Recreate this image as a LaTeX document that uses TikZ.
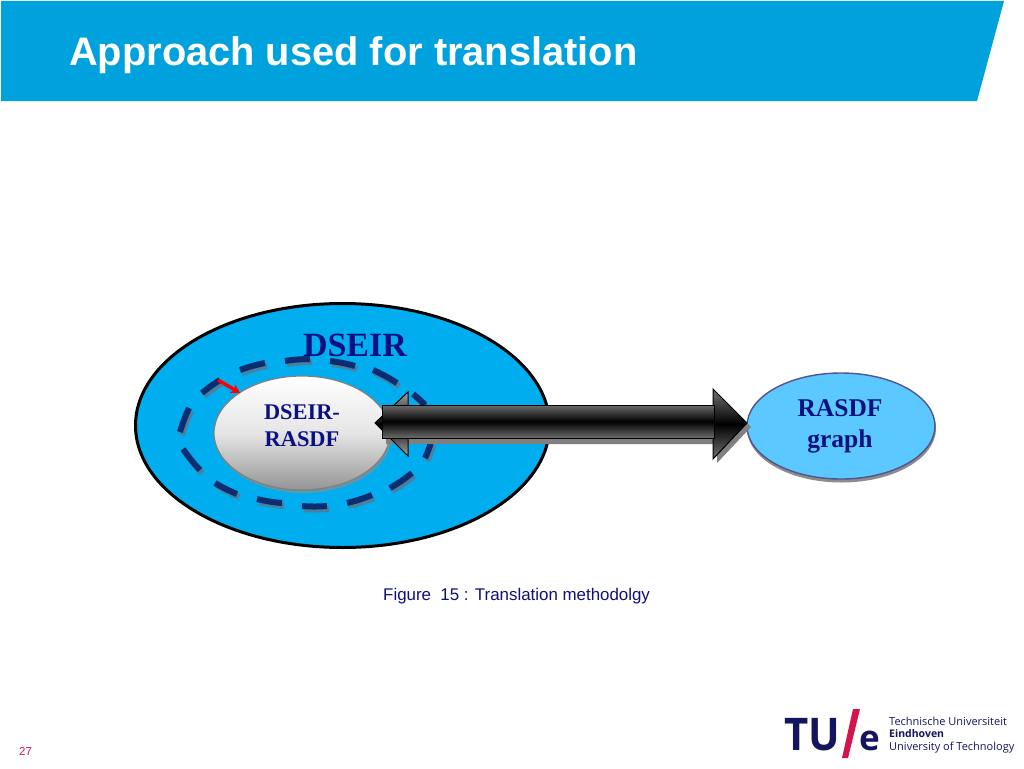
\documentclass[tikz,border=0pt]{standalone}
\usepackage{fontspec}
\setmainfont{Liberation Serif}
\newfontfamily\arialfont{Liberation Sans}
\newfontfamily\logofont{Open Sans}
\usetikzlibrary{arrows.meta,shapes.geometric}
\definecolor{band}{HTML}{00A2DE}
\definecolor{outerblue}{HTML}{00AEEF}
\definecolor{rasdfblue}{HTML}{5BC8FF}
\definecolor{navytext}{HTML}{0B1080}
\definecolor{captionnavy}{HTML}{10107A}
\definecolor{dashblue}{HTML}{0A2C70}
\definecolor{dashshadow}{HTML}{4A7F9E}
\definecolor{tuenavy}{HTML}{14145F}
\definecolor{tuered}{HTML}{D4144C}
\tikzset{
  x=1pt,y=-1pt,
  ringdash/.style={draw=dashblue,line width=6pt},
  ringshadow/.style={draw=dashshadow,line width=6pt},
  serifbold/.style={font=\fontsize{25.5}{31}\selectfont\bfseries,text=navytext,align=center,inner sep=0pt},
  sanslabel/.style={font=\arialfont,inner sep=0pt,anchor=base west},
  logoword/.style={font=\logofont\fontsize{11}{12}\selectfont,text=tuenavy,inner sep=0pt,anchor=base west},
}
\newcommand{\ringseg}[4]{%
  \draw[ringshadow] (#1+2,#2+3) to[bend left=4] (#3+2,#4+3);
  \draw[ringdash] (#1,#2) to[bend left=4] (#3,#4);}
\begin{document}
\begin{tikzpicture}
\useasboundingbox (0,0) rectangle (1024,768);
\fill[white] (0,0) rectangle (1024,768);
% title band
\fill[band] (1,1) -- (1004,1) -- (977,101) -- (1,101) -- cycle;
\node[sanslabel,text=white,font=\arialfont\bfseries\fontsize{39.8}{42}\selectfont] (title) at (69,65) {Approach used for translation};
% outer ellipse
\node[ellipse,draw=black,line width=3pt,fill=outerblue,minimum width=414pt,minimum height=244pt,inner sep=0pt] (outer) at (342.5,425.5) {};
% dashed ring
\ringseg{240}{370}{265}{363}
\ringseg{285}{361}{310}{359}
\ringseg{330}{361}{355}{366}
\ringseg{373}{370}{397}{383}
\ringseg{413}{394}{425}{405}
\ringseg{431}{442}{425}{458}
\ringseg{412}{473}{390}{488}
\ringseg{372}{495}{347}{503}
\ringseg{327}{506}{302}{506}
\ringseg{282}{503}{257}{499}
\ringseg{237}{494}{215}{483}
\ringseg{200}{470}{183}{449}
\ringseg{180}{432}{189}{408}
\ringseg{202}{393}{220}{380}
% inner ellipse
\fill[black!45,opacity=.7] (303.5,435.5) ellipse [x radius=88,y radius=57.5];
\node[ellipse,draw=black!50,line width=1.2pt,top color=white,bottom color=black!42,middle color=black!10,minimum width=176pt,minimum height=114pt,inner sep=0pt] (inner) at (302,433) {};
\node[serifbold,font=\fontsize{22.4}{27}\selectfont\bfseries] (innertext) at (302,426) {DSEIR-\\RASDF};
% red arrow
\coordinate (redstart) at (218,380);
\coordinate (redend) at (240,393);
\draw[red,line width=3.4pt,-{Stealth[length=9pt,width=10pt]}] (redstart) -- (redend);
% label DSEIR
\node[serifbold,font=\fontsize{34}{36}\selectfont\bfseries] (dseir) at (355,345) {DSEIR};
% right ellipse
\fill[black!45] (841.5,428.5) ellipse [x radius=94.5,y radius=54];
\node[ellipse,draw=black!30!blue!35!gray,line width=1.4pt,fill=rasdfblue,minimum width=188pt,minimum height=106pt,inner sep=0pt] (rasdf) at (841,426) {};
\node[serifbold] (rasdftext) at (840,426) {RASDF\\graph};
% block arrow shadow
\fill[black!50] (386,409) -- (717,409) -- (717,393) -- (751,427) -- (717,463) -- (717,444) -- (386,444) -- cycle;
% block arrow heads
\path[draw=black,line width=1pt,top color=black!55,bottom color=black!55,middle color=black] (713,389) -- (747,423) -- (713,459) -- cycle;
\path[draw=black,line width=1pt,top color=black!35,bottom color=black!35,middle color=black] (408,392) -- (375,423) -- (408,456) -- cycle;
% shaft
\path[draw=black,line width=1pt,top color=black!58,bottom color=black!58,middle color=black] (382,405) rectangle (714,438);
% caption
\node[sanslabel,text=captionnavy,font=\arialfont\fontsize{16.9}{18}\selectfont] (caption) at (383,600.5) {Figure\ \ 15 : Translation methodolgy};
% page number
\node[sanslabel,text=tuered,font=\arialfont\fontsize{11.5}{12}\selectfont] (page) at (19,755) {27};
% logo
\node[sanslabel,text=tuenavy,font=\logofont\bfseries\fontsize{45}{48}\selectfont,xscale=.93] (tu) at (784,750) {TU};
\fill[tuered] (853,709) -- (860,709) -- (848,758) -- (842,758) -- cycle;
\node[sanslabel,text=tuenavy,font=\logofont\bfseries\fontsize{35}{36}\selectfont] (e) at (859,750) {e};
\node[logoword] (w1) at (889,725) {Technische Universiteit};
\node[logoword,font=\logofont\bfseries\fontsize{10.5}{12}\selectfont] (w2) at (889,737) {Eindhoven};
\node[logoword] (w3) at (889,750) {University of Technology};
\end{tikzpicture}
\end{document}
